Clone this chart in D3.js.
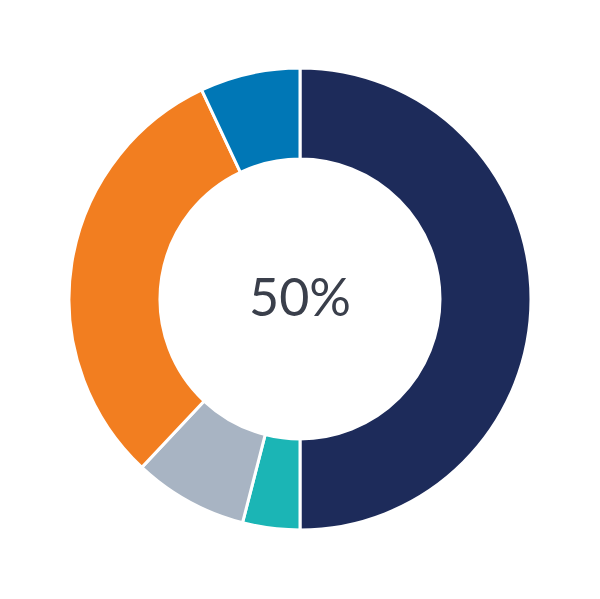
<!DOCTYPE html>
<html>
<head>
<meta charset="utf-8">
<script src="https://cdn.jsdelivr.net/npm/d3@7"></script>
<style>
  html, body { margin: 0; padding: 0; background: #fff; }
</style>
</head>
<body>
<div id="chart"></div>
<script>
const categories = ["A", "B", "C", "D", "E"];
const values = [50, 4, 8, 31, 7];
const colors = ["#1d2b5a", "#1bb5b5", "#a8b4c3", "#f27e20", "#0077b6"];
const centerLabel = "50%";

const width = 600, height = 599;
const outerR = 231, innerR = 140;

const data = categories.map((c, i) => ({name: c, value: values[i]}));

const color = d3.scaleOrdinal()
    .domain(categories)
    .range(colors);

const pie = d3.pie()
    .sort(null)
    .value(d => d.value);

const arc = d3.arc()
    .innerRadius(innerR)
    .outerRadius(outerR);

const svg = d3.select("#chart")
    .append("svg")
    .attr("width", width)
    .attr("height", height);

const g = svg.append("g")
    .attr("transform", "translate(300,299)");

g.selectAll("path")
    .data(pie(data))
    .enter()
    .append("path")
    .attr("d", arc)
    .attr("fill", d => color(d.data.name))
    .attr("stroke", "#fff")
    .attr("stroke-width", 3);

g.append("text")
    .attr("text-anchor", "middle")
    .attr("y", 17)
    .attr("font-family", "Lato, sans-serif")
    .attr("font-size", 52)
    .attr("fill", "#3a3f4b")
    .text(centerLabel);
</script>
</body>
</html>
